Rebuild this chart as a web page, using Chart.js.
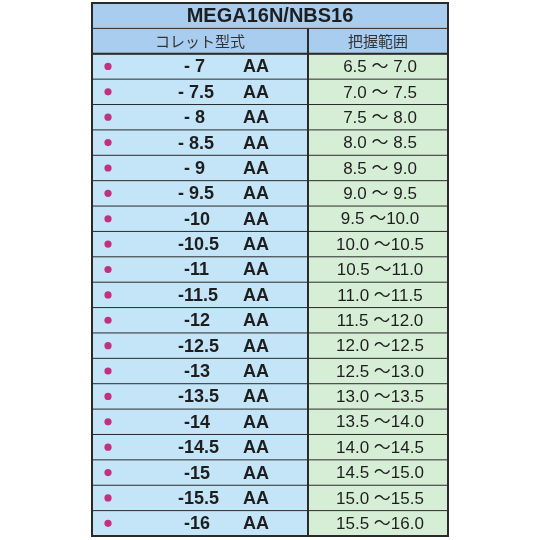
<!DOCTYPE html>
<html>
<head>
<meta charset="utf-8">
<script src="https://cdn.jsdelivr.net/npm/chart.js@4"></script>
<style>
  html, body { margin: 0; padding: 0; background: #fff; }
  #wrap { width: 540px; height: 540px; }
</style>
</head>
<body>
<div id="wrap"><canvas id="table"></canvas></div>
<script>
// --- Datos de la tabla ---
const tableTitle = 'MEGA16N/NBS16';
const headers = ['コレット型式', '把握範囲'];
const models = ['- 7', '- 7.5', '- 8', '- 8.5', '- 9', '- 9.5', '-10', '-10.5', '-11', '-11.5',
                '-12', '-12.5', '-13', '-13.5', '-14', '-14.5', '-15', '-15.5', '-16'];
const ranges = ['6.5 〜 7.0', '7.0 〜 7.5', '7.5 〜 8.0', '8.0 〜 8.5', '8.5 〜 9.0', '9.0 〜 9.5',
                '9.5 〜10.0', '10.0 〜10.5', '10.5 〜11.0', '11.0 〜11.5', '11.5 〜12.0', '12.0 〜12.5',
                '12.5 〜13.0', '13.0 〜13.5', '13.5 〜14.0', '14.0 〜14.5', '14.5 〜15.0', '15.0 〜15.5',
                '15.5 〜16.0'];
const suffix = 'AA';

// Peso relativo de cada columna
const COL_LEFT = 216, COL_RIGHT = 140;
const rowLabels = ['title', 'header', ...models];
const n = rowLabels.length;

const headBlue = '#a9cdee';
const leftColors = rowLabels.map((_, i) => i < 2 ? headBlue : '#c3e5f7');
const rightColors = rowLabels.map((_, i) => i < 2 ? headBlue : '#d7eed6');

const tablePlugin = {
    id: 'tableText',
    afterDatasetsDraw(chart) {
        const ctx = chart.ctx;
        const L = chart.getDatasetMeta(0).data;
        const R = chart.getDatasetMeta(1).data;
        const x0 = L[0].base, xm = L[0].x, x1 = R[0].x;
        const rowTop = i => L[i].y - L[i].height / 2;
        const rowBot = i => L[i].y + L[i].height / 2;
        ctx.save();
        ctx.textBaseline = 'middle';
        ctx.fillStyle = '#1e1e1e';
        // Título
        ctx.font = 'bold 20px "Liberation Sans", Arial, sans-serif';
        ctx.textAlign = 'center';
        ctx.fillText(tableTitle, (x0 + x1) / 2, L[0].y + 1);
        // Encabezados
        ctx.font = '15px "Noto Sans CJK JP", sans-serif';
        ctx.fillStyle = '#333';
        ctx.fillText(headers[0], (x0 + xm) / 2, L[1].y);
        ctx.fillText(headers[1], (xm + x1) / 2, L[1].y);
        // Filas
        for (let i = 2; i < n; i++) {
            const y = L[i].y + 1;
            ctx.fillStyle = '#c2317f';
            ctx.beginPath();
            ctx.arc(x0 + 16, y - 1, 3.6, 0, Math.PI * 2);
            ctx.fill();
            ctx.fillStyle = '#1e1e1e';
            ctx.font = 'bold 18px "Liberation Sans", Arial, sans-serif';
            ctx.textAlign = 'left';
            const m = models[i - 2];
            ctx.fillText(m, m.length > 4 ? x0 + 86 : x0 + 92, y);
            ctx.fillText(suffix, x0 + 151, y);
            ctx.font = '17px "Liberation Sans", "Noto Sans CJK JP", sans-serif';
            ctx.textAlign = 'center';
            ctx.fillText(ranges[i - 2], (xm + x1) / 2 + 2, y);
        }
        // Líneas
        ctx.strokeStyle = '#2a2a2a';
        ctx.lineWidth = 1;
        for (let i = 1; i < n; i++) {
            ctx.beginPath();
            ctx.moveTo(x0, rowTop(i));
            ctx.lineTo(x1, rowTop(i));
            ctx.stroke();
        }
        ctx.lineWidth = 2;
        ctx.beginPath();
        ctx.moveTo(xm, rowTop(1));
        ctx.lineTo(xm, rowBot(n - 1));
        ctx.stroke();
        ctx.beginPath();
        ctx.moveTo(x0, rowTop(2));
        ctx.lineTo(x1, rowTop(2));
        ctx.stroke();
        ctx.strokeRect(x0, rowTop(0), x1 - x0, rowBot(n - 1) - rowTop(0));
        ctx.restore();
    }
};

new Chart(document.getElementById('table'), {
    type: 'bar',
    data: {
        labels: rowLabels,
        datasets: [
            { data: rowLabels.map(() => COL_LEFT), backgroundColor: leftColors, borderWidth: 0 },
            { data: rowLabels.map(() => COL_RIGHT), backgroundColor: rightColors, borderWidth: 0 }
        ]
    },
    options: {
        indexAxis: 'y',
        responsive: true,
        maintainAspectRatio: false,
        animation: false,
        events: [],
        layout: { padding: { left: 92, right: 92, top: 3, bottom: 4 } },
        datasets: { bar: { barPercentage: 1, categoryPercentage: 1 } },
        scales: {
            x: { stacked: true, display: false, min: 0, max: COL_LEFT + COL_RIGHT },
            y: { stacked: true, display: false }
        },
        plugins: { legend: { display: false }, tooltip: { enabled: false } }
    },
    plugins: [tablePlugin]
});
</script>
</body>
</html>
